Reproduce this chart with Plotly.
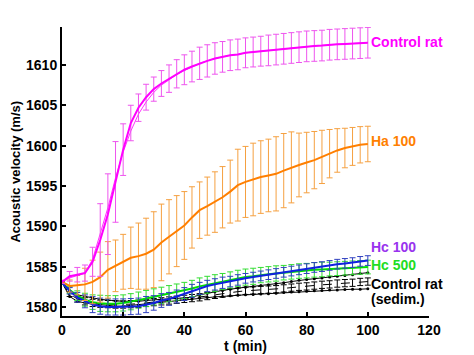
import plotly.graph_objects as go

t = [i * 2.5 for i in range(41)]

control = [1583.1, 1583.8, 1584.0, 1584.2, 1585.6, 1588.3, 1591.5, 1595.5, 1599.5, 1602.8,
           1604.7, 1606.0, 1607.0, 1607.7, 1608.3, 1608.9, 1609.4, 1609.8, 1610.2, 1610.5,
           1610.8, 1611.0, 1611.2, 1611.3, 1611.5, 1611.6, 1611.7, 1611.8, 1611.9, 1612.0,
           1612.1, 1612.2, 1612.3, 1612.35, 1612.4, 1612.5, 1612.55, 1612.6, 1612.65, 1612.7, 1612.75]
control_thin = [1583.1, 1583.6, 1583.9, 1584.2, 1585.9, 1589.0, 1592.3, 1596.0, 1599.2, 1601.8,
                1603.9, 1605.4, 1606.6, 1607.5, 1608.2, 1608.8, 1609.3, 1609.8, 1610.2, 1610.5,
                1610.8, 1611.0, 1611.2, 1611.3, 1611.5, 1611.6, 1611.7, 1611.8, 1611.9, 1612.0,
                1612.1, 1612.2, 1612.3, 1612.35, 1612.4, 1612.5, 1612.55, 1612.6, 1612.65, 1612.7, 1612.75]
control_err = [0.2, 0.6, 0.9, 1.0, 1.8, 4.5, 5.0, 5.0, 3.2, 2.2, 1.7, 1.6, 1.5, 1.6, 1.7, 1.75,
               1.85, 1.9, 2.0, 2.0, 1.95, 1.9, 1.9, 1.9, 1.85, 1.85, 1.85, 1.9, 1.9, 1.9, 1.9,
               1.9, 1.9, 1.9, 1.9, 1.9, 1.9, 1.9, 1.9, 1.9, 1.9]

ha100 = [1583.1, 1582.6, 1582.7, 1582.8, 1583.1, 1583.7, 1584.6, 1585.1, 1585.6, 1586.1,
         1586.3, 1586.6, 1587.1, 1588.0, 1588.7, 1589.4, 1590.1, 1591.1, 1592.0, 1592.5,
         1593.0, 1593.6, 1594.3, 1595.1, 1595.5, 1595.8, 1596.1, 1596.3, 1596.5, 1596.9,
         1597.3, 1597.6, 1597.9, 1598.2, 1598.6, 1599.0, 1599.4, 1599.7, 1599.9, 1600.1, 1600.2]
ha100_err = [0.2, 0.75, 1.2, 2.0, 2.7, 3.1, 3.5, 3.2, 3.4, 3.8, 4.1, 4.4, 4.7, 4.75, 4.6, 4.4,
             4.2, 3.8, 3.5, 3.6, 3.75, 3.8, 3.9, 4.45, 4.4, 4.5, 4.5, 4.5, 4.6, 4.6, 4.4, 3.95,
             3.75, 3.55, 3.3, 3.0, 2.7, 2.45, 2.35, 2.25, 2.2]

hc100 = [1583.0, 1582.0, 1581.2, 1580.7, 1580.3, 1580.1, 1580.0, 1580.0, 1580.0, 1580.05,
         1580.1, 1580.3, 1580.5, 1580.8, 1581.0, 1581.3, 1581.6, 1582.0, 1582.3, 1582.6,
         1582.8, 1583.0, 1583.15, 1583.35, 1583.55, 1583.7, 1583.85, 1584.0, 1584.15, 1584.3,
         1584.45, 1584.6, 1584.75, 1584.9, 1585.0, 1585.15, 1585.3, 1585.4, 1585.5, 1585.65, 1585.75]
hc100_err = [0.1, 0.4, 0.6, 0.8, 1.0, 1.0, 1.0, 1.0, 1.0, 1.0, 1.0, 1.0, 0.9, 0.85, 0.8, 0.8,
             0.8, 0.8, 0.75, 0.7, 0.7, 0.7, 0.65, 0.65, 0.6, 0.6, 0.6, 0.6, 0.6, 0.6, 0.6,
             0.6, 0.6, 0.6, 0.6, 0.6, 0.6, 0.6, 0.6, 0.6, 0.6]

hc500 = [1583.0, 1582.1, 1581.4, 1580.9, 1580.6, 1580.45, 1580.4, 1580.4, 1580.5, 1580.65,
         1580.85, 1581.05, 1581.25, 1581.45, 1581.65, 1581.85, 1582.05, 1582.3, 1582.55, 1582.75,
         1582.95, 1583.15, 1583.35, 1583.55, 1583.7, 1583.8, 1583.95, 1584.05, 1584.15, 1584.25,
         1584.35, 1584.45, 1584.5, 1584.6, 1584.65, 1584.7, 1584.75, 1584.8, 1584.85, 1584.9, 1584.95]
hc500_err = [0.1, 0.4, 0.6, 0.8, 0.9, 1.0, 1.0, 1.0, 1.0, 1.0, 1.0, 1.0, 1.0, 1.0, 1.0, 1.0,
             1.0, 1.0, 1.05, 1.05, 1.05, 1.0, 1.0, 1.0, 1.0, 1.0, 0.95, 0.95, 0.95, 0.9, 0.9,
             0.9, 0.9, 0.9, 0.9, 0.85, 0.85, 0.85, 0.85, 0.85, 0.85]

sed_top = [1583.0, 1582.0, 1581.5, 1581.3, 1581.1, 1580.95, 1580.85, 1580.75, 1580.7, 1580.7,
           1580.7, 1580.8, 1580.9, 1580.95, 1581.0, 1581.05, 1581.1, 1581.2, 1581.5, 1581.7,
           1581.9, 1582.05, 1582.2, 1582.35, 1582.45, 1582.55, 1582.65, 1582.75, 1582.9, 1583.0,
           1583.15, 1583.3, 1583.4, 1583.5, 1583.6, 1583.7, 1583.8, 1583.9, 1584.0, 1584.15, 1584.25]
sed_mid = [1583.0, 1581.6, 1581.0, 1580.7, 1580.5, 1580.4, 1580.35, 1580.3, 1580.3, 1580.35,
           1580.4, 1580.5, 1580.6, 1580.7, 1580.8, 1580.9, 1581.0, 1581.1, 1581.2, 1581.35,
           1581.5, 1581.65, 1581.8, 1581.9, 1582.0, 1582.05, 1582.1, 1582.15, 1582.2, 1582.3,
           1582.4, 1582.5, 1582.55, 1582.65, 1582.75, 1582.8, 1582.9, 1582.95, 1583.0, 1583.1, 1583.15]
sed_bot = [1583.0, 1581.3, 1580.7, 1580.5, 1580.4, 1580.3, 1580.25, 1580.1, 1580.1, 1580.2,
           1580.25, 1580.35, 1580.45, 1580.55, 1580.7, 1580.8, 1580.9, 1581.0, 1581.1, 1581.2,
           1581.25, 1581.3, 1581.4, 1581.45, 1581.5, 1581.55, 1581.6, 1581.65, 1581.7, 1581.8,
           1581.85, 1581.9, 1581.95, 1582.0, 1582.05, 1582.1, 1582.1, 1582.15, 1582.2, 1582.2, 1582.25]
sed_err = [0.1, 0.3, 0.4, 0.45, 0.45, 0.45, 0.45, 0.45, 0.45, 0.45, 0.45, 0.45, 0.45, 0.45,
           0.45, 0.45, 0.45, 0.45, 0.45, 0.45, 0.45, 0.45, 0.45, 0.45, 0.45, 0.45, 0.45, 0.45,
           0.45, 0.45, 0.45, 0.45, 0.45, 0.45, 0.45, 0.45, 0.45, 0.45, 0.45, 0.45, 0.45]

x_ticks = [0, 20, 40, 60, 80, 100, 120]
y_ticks = [1580, 1585, 1590, 1595, 1600, 1605, 1610]

labels = [
    ("Control rat", 1612.85, "#ff00ff"),
    ("Ha 100", 1600.6, "#ff7f00"),
    ("Hc 100", 1587.4, "#9933ee"),
    ("Hc 500", 1585.2, "#22dd22"),
    ("Control rat", 1582.9, "#000000"),
    ("(sedim.)", 1580.95, "#000000"),
]

FONT = "Liberation Sans, Arial, sans-serif"

fig = go.Figure()

def add(y, color, width, err=None, errcolor=None, mode="lines", marker=None, dash=None):
    kw = dict(x=t, y=y, mode=mode, line=dict(color=color, width=width, dash=dash),
              showlegend=False, hoverinfo="skip")
    if marker:
        kw["marker"] = marker
    if err is not None:
        kw["error_y"] = dict(type="data", array=err, color=errcolor, thickness=1, width=3)
    fig.add_trace(go.Scatter(**kw))

# sedimentation controls (black)
add(sed_mid, "#000000", 1, err=sed_err, errcolor="#000000", dash="dash")
add(sed_top, "#000000", 1, mode="lines+markers", marker=dict(size=3, color="#000000"))
add(sed_bot, "#000000", 1, mode="lines+markers", marker=dict(size=3, color="#000000"))
# Hc 500 (green)
add(hc500, "#00dd00", 2, err=hc500_err, errcolor="#33dd33")
# Hc 100 (blue)
add(hc100, "#1020e0", 2, err=hc100_err, errcolor="#3040c0")
# Ha 100 (orange)
add(ha100, "#ff7f00", 2, err=ha100_err, errcolor="#f5a040")
# Control rat (magenta)
add(control_thin, "#ff33ff", 1)
add(control, "#ff00ff", 2, err=control_err, errcolor="#ee55ee")

for text, yv, col in labels:
    fig.add_annotation(x=100.5, y=yv, xref="x", yref="y", text=text, showarrow=False,
                       xanchor="left", yanchor="middle",
                       font=dict(family=FONT, size=14, color=col, weight="bold"))

fig.add_annotation(x=-0.128, y=0.5, xref="paper", yref="paper", text="Acoustic velocity (m/s)",
                   textangle=-90, showarrow=False, xanchor="center", yanchor="middle",
                   font=dict(family=FONT, size=13, color="#000000", weight="bold"))

axis_font = dict(family=FONT, size=14, color="#000000", weight="bold")

# the page body adds an 8px offset, so the figure is 8px smaller and margins shifted
fig.update_layout(
    width=466, height=347,
    margin=dict(l=54, r=45, t=19, b=39, autoexpand=False),
    paper_bgcolor="#ffffff", plot_bgcolor="#ffffff",
    xaxis=dict(range=[0, 120], tickvals=x_ticks, ticktext=[str(v) for v in x_ticks],
               showline=True, linecolor="#000000", linewidth=2, ticks="inside",
               ticklen=4, tickwidth=2, tickcolor="#000000", showgrid=False, zeroline=False,
               tickfont=axis_font, automargin=False,
               title=dict(text="t (min)", font=axis_font, standoff=0)),
    yaxis=dict(range=[1578.88, 1614.7], tickvals=y_ticks, ticktext=[str(v) for v in y_ticks],
               showline=True, linecolor="#000000", linewidth=2, ticks="inside",
               ticklen=4, tickwidth=2, tickcolor="#000000", showgrid=False, zeroline=False,
               tickfont=axis_font, automargin=False),
)

fig.write_html("out.html")
